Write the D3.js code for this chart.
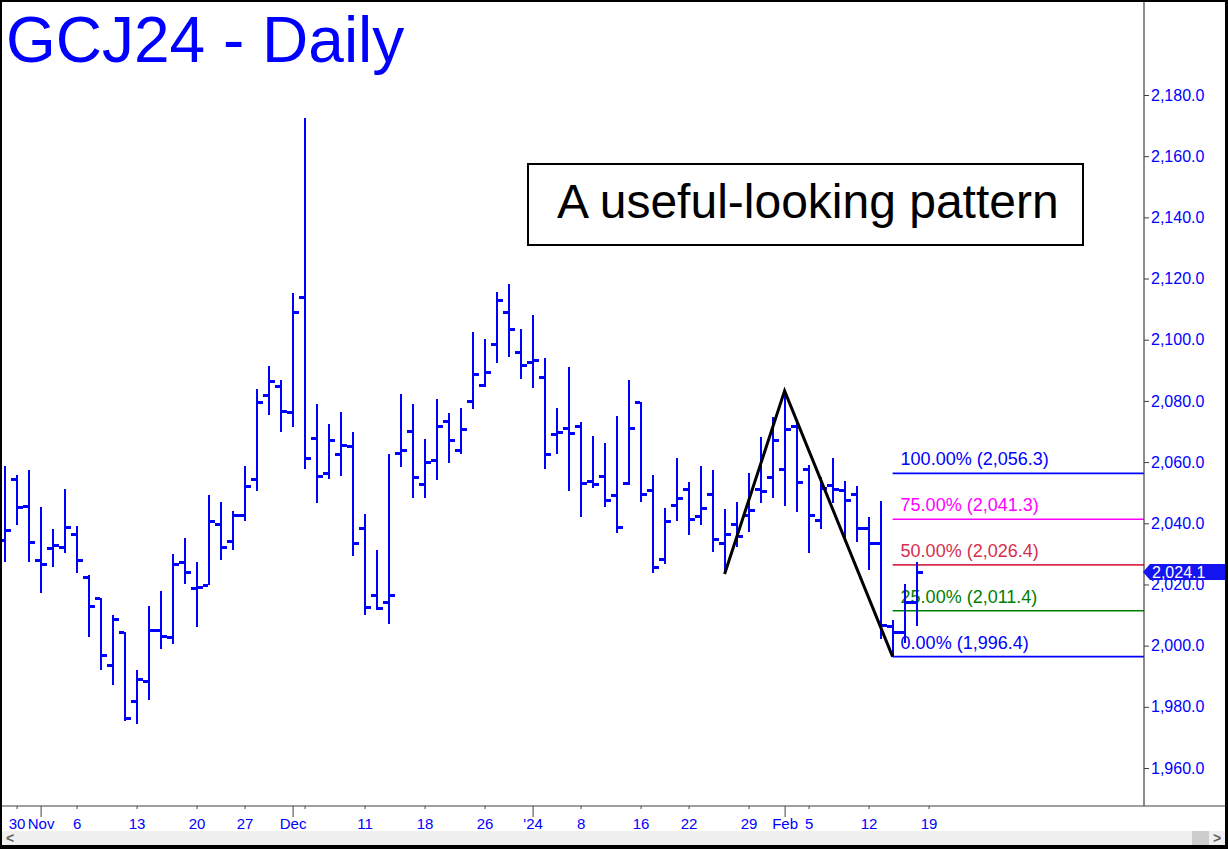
<!DOCTYPE html>
<html>
<head>
<meta charset="utf-8">
<script src="https://cdn.jsdelivr.net/npm/d3@7"></script>
<style>
  body { margin: 0; background: #fff; }
  svg { display: block; font-family: "Liberation Sans", Arial, sans-serif; }
</style>
</head>
<body>
<svg id="chart" width="1228" height="849"></svg>
<script>
// trading days shown on the chart
var dates = ["2023-10-27","2023-10-30","2023-10-31","2023-11-01","2023-11-02","2023-11-03",
  "2023-11-06","2023-11-07","2023-11-08","2023-11-09","2023-11-10",
  "2023-11-13","2023-11-14","2023-11-15","2023-11-16","2023-11-17",
  "2023-11-20","2023-11-21","2023-11-22","2023-11-24",
  "2023-11-27","2023-11-28","2023-11-29","2023-11-30","2023-12-01",
  "2023-12-04","2023-12-05","2023-12-06","2023-12-07","2023-12-08",
  "2023-12-11","2023-12-12","2023-12-13","2023-12-14","2023-12-15",
  "2023-12-18","2023-12-19","2023-12-20","2023-12-21","2023-12-22",
  "2023-12-26","2023-12-27","2023-12-28","2023-12-29",
  "2024-01-02","2024-01-03","2024-01-04","2024-01-05",
  "2024-01-08","2024-01-09","2024-01-10","2024-01-11","2024-01-12",
  "2024-01-16","2024-01-17","2024-01-18","2024-01-19",
  "2024-01-22","2024-01-23","2024-01-24","2024-01-25","2024-01-26",
  "2024-01-29","2024-01-30","2024-01-31","2024-02-01","2024-02-02",
  "2024-02-05","2024-02-06","2024-02-07","2024-02-08","2024-02-09",
  "2024-02-12","2024-02-13","2024-02-14","2024-02-15","2024-02-16"];

var opens = [2034.4,2054.5,2045.7,2028.0,2031.9,2032.3,2036.5,2022.5,2015.5,1993.7,
  2004.6,1981.9,1988.5,2005.1,2002.8,2027.4,2019.0,2019.7,2039.8,2034.2,
  2042.7,2054.5,2081.9,2084.9,2076.3,2114.0,2068.0,2056.5,2062.6,2065.2,
  2038.6,2016.5,2014.3,2063.1,2070.2,2052.9,2060.7,2073.5,2064.0,2080.1,
  2085.2,2098.7,2109.2,2096.1,2092.7,2087.8,2069.3,2071.1,2071.9,2053.9,
  2055.6,2049.2,2053.2,2079.8,2050.9,2028.3,2046.0,2051.2,2042.5,2049.6,
  2033.6,2039.8,2042.8,2051.3,2055.1,2057.7,2071.9,2057.7,2041.1,2052.5,
  2051.0,2049.6,2038.4,2033.7,2006.5,2004.5,2014.3];

var highs = [2058.8,2055.9,2057.5,2045.3,2038.1,2051.2,2039.1,2023.1,2015.5,2010.0,
  2004.6,1992.1,2013.0,2017.9,2030.0,2035.2,2027.2,2049.3,2047.0,2044.0,
  2058.7,2083.9,2091.5,2086.8,2115.3,2172.4,2079.0,2072.5,2076.3,2069.8,
  2043.0,2031.4,2062.6,2082.4,2079.1,2067.6,2080.7,2076.0,2077.8,2102.6,
  2100.3,2115.7,2118.3,2103.5,2108.2,2094.0,2077.8,2091.1,2073.2,2068.6,
  2066.2,2075.2,2086.9,2079.8,2055.8,2045.0,2061.4,2053.5,2058.8,2057.5,
  2044.8,2047.1,2056.5,2068.3,2074.8,2083.3,2073.9,2059.2,2055.2,2061.3,
  2053.8,2052.1,2042.2,2047.3,2008.5,2020.3,2027.5];

var lows = [2027.2,2039.4,2027.2,2017.1,2025.7,2030.3,2023.8,2002.8,1992.1,1987.2,
  1975.4,1974.4,1982.3,1998.9,2000.6,2020.2,2006.2,2019.7,2027.9,2031.1,
  2040.7,2050.5,2075.3,2070.0,2071.5,2057.7,2046.5,2054.5,2055.4,2029.3,
  2009.9,2011.5,2007.1,2058.3,2048.1,2048.1,2054.0,2059.6,2062.5,2077.2,
  2084.5,2092.3,2094.2,2087.2,2084.2,2057.9,2062.6,2050.6,2042.0,2051.5,
  2045.3,2036.8,2052.6,2047.0,2023.8,2026.7,2040.9,2036.2,2039.3,2030.6,
  2023.4,2032.3,2037.0,2046.5,2048.1,2045.8,2043.6,2030.2,2038.1,2046.6,
  2033.8,2033.9,2024.6,2002.2,1996.4,2000.9,2006.3];

var closes = [2037.8,2045.3,2033.9,2026.7,2032.9,2038.8,2028.0,2013.0,1997.0,2008.7,
  1976.4,1989.1,2005.1,2003.2,2026.7,2024.1,2019.2,2040.7,2032.3,2042.7,
  2052.3,2079.6,2086.6,2076.8,2109.1,2061.4,2055.5,2067.3,2065.7,2033.6,
  2012.7,2012.4,2016.5,2064.0,2055.1,2060.0,2071.8,2067.2,2070.8,2088.8,
  2089.4,2113.1,2103.5,2091.7,2093.5,2062.7,2069.8,2069.5,2053.2,2052.8,
  2047.6,2038.9,2071.1,2049.6,2025.7,2040.8,2048.3,2041.4,2045.0,2034.9,
  2036.5,2035.9,2044.4,2050.6,2067.2,2070.8,2053.5,2042.7,2051.5,2051.3,
  2047.6,2038.6,2033.7,2006.8,2004.5,2014.3,2024.1];

var lastPrice = 2024.1;

// x axis ticks (Feb 19 is the next session, past the last bar)
var tickDates = ["2023-10-30","2023-11-01","2023-11-06","2023-11-13","2023-11-20","2023-11-27",
  "2023-12-01","2023-12-04","2023-12-11","2023-12-18","2023-12-26","2024-01-02","2024-01-08",
  "2024-01-16","2024-01-22","2024-01-29","2024-02-01","2024-02-05","2024-02-12","2024-02-19"];
var tickText = ["30","Nov","6","13","20","27","Dec","","11","18","26","'24","8",
  "16","22","29","Feb","5","12","19"];
var monthLabels = ["Nov","Dec","'24","Feb"];

var yTicks = [1960,1980,2000,2020,2040,2060,2080,2100,2120,2140,2160,2180];

// ABC pattern
var patternDates = ["2024-01-25","2024-02-01","2024-02-14"];
var patternValues = [2023.4, 2083.3, 1996.4];

// target levels
var fibPct = ["100.00%","75.00%","50.00%","25.00%","0.00%"];
var fibValues = [2056.3, 2041.3, 2026.4, 2011.4, 1996.4];
var fibColors = ["#0000ff","#ff00ff","#d62e4e","#008000","#0000ff"];

var W = 1228, H = 849, axisX = 1144, axisY = 806;
var svg = d3.select("#chart");
var blue = "#0000ff";

var allDates = dates.concat(["2024-02-19"]);
function idx(d) { return allDates.indexOf(d); }

var x = d3.scaleLinear().domain([0, 95]).range([4.6, 4.6 + 12 * 95]);
var y = d3.scaleLinear().domain([1960, 2180]).range([768, 95]);

var bars = dates.map(function (d, i) {
  return {i: i, o: opens[i], h: highs[i], l: lows[i], c: closes[i]};
});

// title
svg.append("text").attr("x", 6).attr("y", 62)
  .attr("font-size", 64).attr("fill", blue).text("GCJ24 - Daily");

// comment box
svg.append("rect").attr("x", 528).attr("y", 164).attr("width", 555).attr("height", 81)
  .attr("fill", "#fff").attr("stroke", "#000").attr("stroke-width", 2);
svg.append("text").attr("x", 557).attr("y", 218).attr("font-size", 48)
  .attr("fill", "#000").text("A useful-looking pattern");

// fib levels
var x0 = x(idx(patternDates[2]));
fibValues.forEach(function (v, k) {
  svg.append("line").attr("x1", x0).attr("x2", axisX)
    .attr("y1", y(v)).attr("y2", y(v))
    .attr("stroke", fibColors[k]).attr("stroke-width", 1.6);
  svg.append("text").attr("x", x0 + 8).attr("y", y(v) - 8)
    .attr("font-size", 18).attr("fill", fibColors[k])
    .text(fibPct[k] + " (" + d3.format(",.1f")(v) + ")");
});

// OHLC bars
var g = svg.append("g").attr("fill", blue).attr("shape-rendering", "crispEdges");
g.selectAll("rect.hl").data(bars).enter().append("rect")
  .attr("x", function (d) { return Math.round(x(d.i)) - 1; })
  .attr("width", 2)
  .attr("y", function (d) { return y(d.h); })
  .attr("height", function (d) { return Math.max(1, y(d.l) - y(d.h)); });
g.selectAll("rect.op").data(bars).enter().append("rect")
  .attr("x", function (d) { return Math.round(x(d.i)) - 6; })
  .attr("width", 5)
  .attr("y", function (d) { return Math.round(y(d.o)) - 1; })
  .attr("height", 3);
g.selectAll("rect.cl").data(bars).enter().append("rect")
  .attr("x", function (d) { return Math.round(x(d.i)) + 1; })
  .attr("width", 5)
  .attr("y", function (d) { return Math.round(y(d.c)) - 1; })
  .attr("height", 3);

// pattern line
var line = d3.line()
  .x(function (d, k) { return x(idx(patternDates[k])); })
  .y(function (d) { return y(d); });
svg.append("path").datum(patternValues).attr("d", line)
  .attr("fill", "none").attr("stroke", "#000").attr("stroke-width", 3)
  .attr("stroke-linejoin", "miter");

// right price axis
var yAxis = svg.append("g").attr("transform", "translate(" + axisX + ",0)")
  .call(d3.axisRight(y).tickValues(yTicks).tickSize(5).tickPadding(2)
    .tickFormat(d3.format(",.1f")));
yAxis.select(".domain").remove();
yAxis.selectAll("line").attr("stroke", "#404040");
yAxis.selectAll("text").attr("fill", blue).attr("font-size", 16)
  .attr("font-family", "Liberation Sans, Arial, sans-serif");
svg.append("line").attr("x1", axisX).attr("x2", axisX).attr("y1", 0).attr("y2", axisY)
  .attr("stroke", "#404040").attr("stroke-width", 1.2);

// last price marker
var py = y(lastPrice);
svg.append("path")
  .attr("d", "M" + (axisX - 1) + "," + py + "L" + (axisX + 6) + "," + (py - 8) +
    "L1225," + (py - 8) + "L1225," + (py + 8) + "L" + (axisX + 6) + "," + (py + 8) + "Z")
  .attr("fill", "#1414f0");
svg.append("text").attr("x", axisX + 8).attr("y", py).attr("dy", "0.35em")
  .attr("font-size", 16).attr("fill", "#fff").text(d3.format(",.1f")(lastPrice));

// bottom time axis
svg.append("line").attr("x1", 0).attr("x2", W).attr("y1", axisY).attr("y2", axisY)
  .attr("stroke", "#404040").attr("stroke-width", 1.2);
var xAxis = svg.append("g").attr("transform", "translate(0," + axisY + ")")
  .call(d3.axisBottom(x).tickValues(tickDates.map(idx)).tickSize(3).tickPadding(9)
    .tickFormat(function (d, k) { return tickText[k]; }));
xAxis.select(".domain").remove();
xAxis.selectAll("line").attr("stroke", "#404040")
  .attr("y2", function (d, k) { return monthLabels.indexOf(tickText[k]) >= 0 ? 11 : 3; });
xAxis.selectAll("text").attr("fill", blue).attr("font-size", 15).attr("y", 12)
  .attr("font-family", "Liberation Sans, Arial, sans-serif");

// scrollbar
svg.append("rect").attr("x", 2).attr("y", 831).attr("width", 1223).attr("height", 14)
  .attr("fill", "#f0f0f0");
svg.append("rect").attr("x", 1192).attr("y", 831).attr("width", 17).attr("height", 14)
  .attr("fill", "#cdcdcd");
svg.append("text").attr("x", 6).attr("y", 843).attr("font-size", 14)
  .attr("font-weight", "bold").attr("fill", "#606060").text("<");
svg.append("text").attr("x", 1213).attr("y", 843).attr("font-size", 14)
  .attr("font-weight", "bold").attr("fill", "#606060").text(">");

// window border
svg.append("rect").attr("x", 0).attr("y", 0).attr("width", W).attr("height", 2).attr("fill", "#000");
svg.append("rect").attr("x", 0).attr("y", 0).attr("width", 2).attr("height", H).attr("fill", "#000");
svg.append("rect").attr("x", W - 3).attr("y", 0).attr("width", 3).attr("height", H).attr("fill", "#000");
svg.append("rect").attr("x", 0).attr("y", 845).attr("width", W).attr("height", 4).attr("fill", "#000");
</script>
</body>
</html>
